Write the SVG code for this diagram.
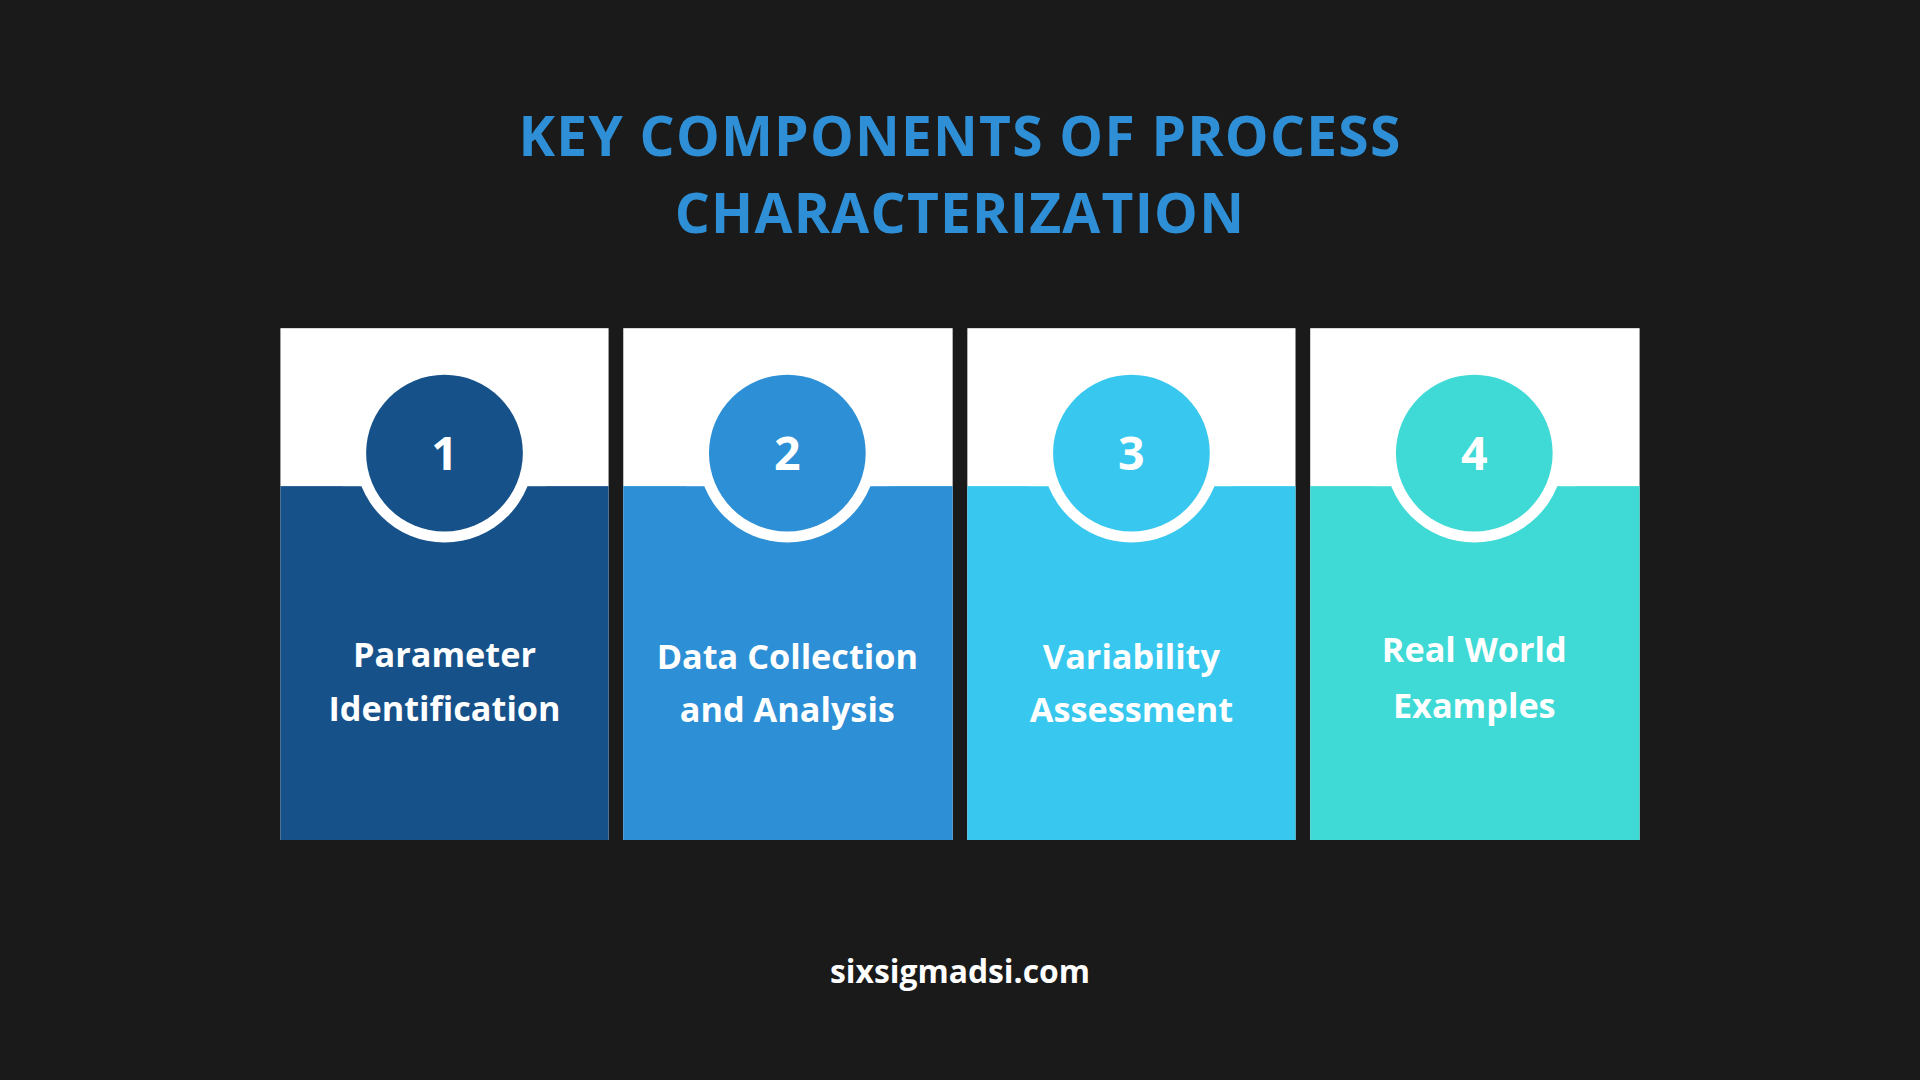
<svg xmlns="http://www.w3.org/2000/svg" width="1920" height="1080" viewBox="0 0 1920 1080">
<style>
.t{font-family:"Open Sans","Liberation Sans",sans-serif;font-weight:700;}
.title{fill:#2f8fd6;font-size:45px;letter-spacing:1px}
.lbl{fill:#fff;font-size:28px}
.num{fill:#fff;font-size:38px}
</style>
<rect width="1920" height="1080" fill="#1a1a1a"/>
<g transform="scale(1.22449)">
<g id="title" class="t title" text-anchor="middle">
<text x="784" y="127">KEY COMPONENTS OF PROCESS</text>
<text x="784" y="190">CHARACTERIZATION</text>
</g>
<g id="card1">
<rect x="229" y="268" width="268" height="418" fill="#fff"/>
<rect x="229" y="397" width="268" height="289" fill="#16518a"/>
<circle cx="363" cy="370" r="73" fill="#fff"/>
<rect x="280" y="298" width="166" height="99" fill="#fff"/>
<circle cx="363" cy="370" r="64" fill="#16518a"/>
<text class="t num" x="363" y="384" text-anchor="middle">1</text>
<text class="t lbl" text-anchor="middle"><tspan x="363" y="545">Parameter</tspan><tspan x="363" y="589">Identification</tspan></text>
</g>
<g id="card2">
<rect x="509" y="268" width="269" height="418" fill="#fff"/>
<rect x="509" y="397" width="269" height="289" fill="#2d8fd5"/>
<circle cx="643" cy="370" r="73" fill="#fff"/>
<rect x="560" y="298" width="166" height="99" fill="#fff"/>
<circle cx="643" cy="370" r="64" fill="#2d8fd5"/>
<text class="t num" x="643" y="384" text-anchor="middle">2</text>
<text class="t lbl" text-anchor="middle"><tspan x="643" y="546">Data Collection</tspan><tspan x="643" y="590">and Analysis</tspan></text>
</g>
<g id="card3">
<rect x="790" y="268" width="268" height="418" fill="#fff"/>
<rect x="790" y="397" width="268" height="289" fill="#38c8ef"/>
<circle cx="924" cy="370" r="73" fill="#fff"/>
<rect x="841" y="298" width="166" height="99" fill="#fff"/>
<circle cx="924" cy="370" r="64" fill="#38c8ef"/>
<text class="t num" x="924" y="384" text-anchor="middle">3</text>
<text class="t lbl" text-anchor="middle"><tspan x="924" y="546">Variability</tspan><tspan x="924" y="590">Assessment</tspan></text>
</g>
<g id="card4">
<rect x="1070" y="268" width="269" height="418" fill="#fff"/>
<rect x="1070" y="397" width="269" height="289" fill="#3fd9d6"/>
<circle cx="1204" cy="370" r="73" fill="#fff"/>
<rect x="1121" y="298" width="166" height="99" fill="#fff"/>
<circle cx="1204" cy="370" r="64" fill="#3fd9d6"/>
<text class="t num" x="1204" y="384" text-anchor="middle">4</text>
<text class="t lbl" text-anchor="middle"><tspan x="1204" y="541">Real World</tspan><tspan x="1204" y="586">Examples</tspan></text>
</g>
<g id="connectors"/>
<text id="footer" class="t" x="784" y="803" text-anchor="middle" fill="#fff" font-size="26">sixsigmadsi.com</text>
</g>
</svg>
